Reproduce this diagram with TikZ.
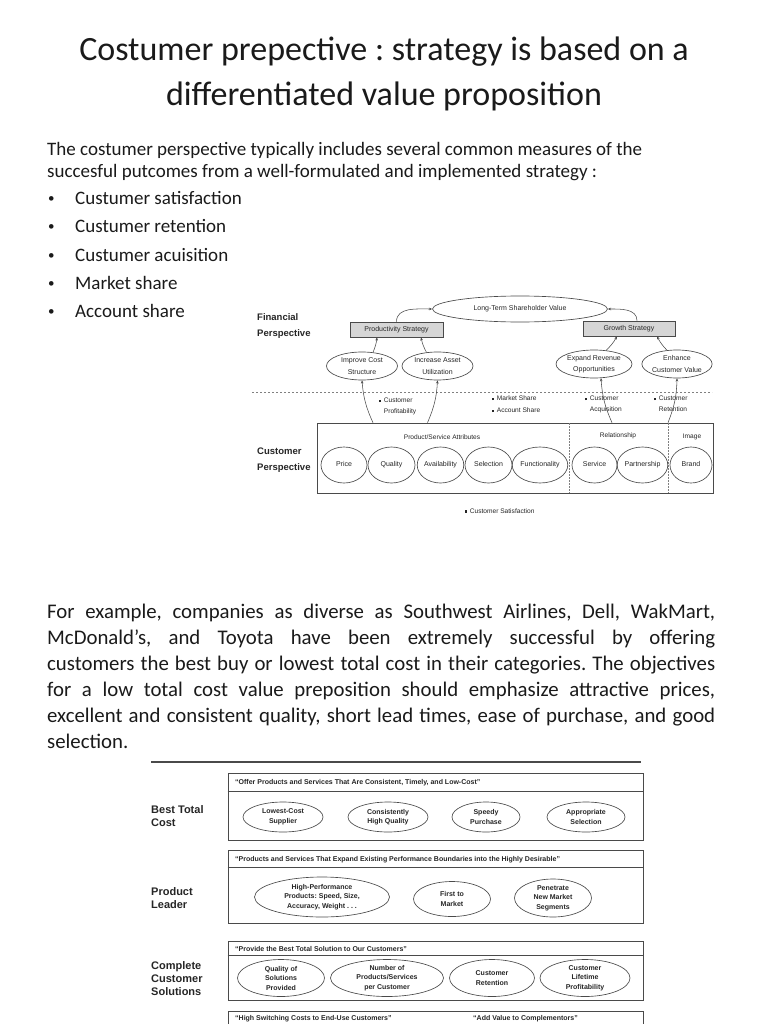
\documentclass[tikz,border=0pt]{standalone}
\usepackage{fontspec}
\setmainfont{Carlito}
\newfontfamily\diagfont{Liberation Sans}
\usetikzlibrary{arrows.meta, positioning, shapes.geometric, calc}
\definecolor{slideInk}{HTML}{1A1A1A}
\definecolor{diagInk}{HTML}{262626}
\definecolor{diagLine}{HTML}{4A4A4A}
\definecolor{stratFill}{HTML}{D6D6D6}
\newcommand{\sqbul}{\raisebox{0.8pt}{\rule{2.2pt}{2.2pt}}}
\newcommand{\bulpair}[2]{\begin{tabular}{@{}l@{\hspace{2.5pt}}l@{}}\sqbul & #1\\ & #2\end{tabular}}
\tikzset{
  arrowK/.style={-{Stealth[length=3.2pt, width=2.6pt]}, diagLine, line width=0.55pt},
  ovalTop/.style={ellipse, draw=diagLine, line width=0.65pt, inner sep=0pt, align=center,
                  text=diagInk, font=\diagfont\fontsize{7}{11.5}\selectfont},
  ovalOne/.style={ovalTop, minimum height=36pt, text height=5.2pt, text depth=1.4pt},
  stratBox/.style={rectangle, draw=diagLine, fill=stratFill, line width=0.65pt, inner sep=0pt,
                   minimum height=15pt, text=diagInk, font=\diagfont\fontsize{7}{8}\selectfont},
  labTop/.style={anchor=north west, inner sep=0pt, text=diagInk,
                 font=\diagfont\fontsize{6.6}{11}\selectfont},
  persp/.style={anchor=west, inner sep=0pt, align=left, text=diagInk,
                font=\diagfont\bfseries\fontsize{9.5}{16}\selectfont},
  valBox/.style={rectangle, draw=diagLine, line width=0.9pt, minimum width=415pt, inner sep=0pt},
  valHead/.style={anchor=west, inner sep=0pt, text=diagInk,
                  font=\diagfont\bfseries\fontsize{7}{8}\selectfont},
  ovalVal/.style={ellipse, draw=diagLine, line width=0.65pt, inner sep=0pt, align=center,
                  text=diagInk, font=\diagfont\bfseries\fontsize{7}{9.5}\selectfont},
  valLab/.style={anchor=west, inner sep=0pt, align=left, text=diagInk,
                 font=\diagfont\bfseries\fontsize{11}{13}\selectfont},
}

\begin{document}
\frenchspacing
\begin{tikzpicture}[x=1pt, y=-1pt, text=slideInk]
  \fill[white] (0,0) rectangle (768,1024);
  \useasboundingbox (0,0) rectangle (768,1024);

  % slide text
  \node[anchor=base, inner sep=0pt, font=\fontsize{34}{40}\selectfont] (title1) at (384,61)
    {Costumer prepective : strategy is based on a};
  \node[anchor=base, inner sep=0pt, font=\fontsize{34}{40}\selectfont] (title2) at (384,106)
    {differentiated value proposition};
  \node[anchor=base west, inner sep=0pt, font=\fontsize{19}{22}\selectfont] (intro1) at (47,156)
    {The costumer perspective typically includes several common measures of the};
  \node[anchor=base west, inner sep=0pt, font=\fontsize{19}{22}\selectfont] (intro2) at (47,178)
    {succesful putcomes from a well-formulated and implemented strategy :};
  \foreach \txt [count=\i] in {Custumer satisfaction, Custumer retention, Custumer acuisition,
                              Market share, Account share} {
    \node[anchor=base west, inner sep=0pt, font=\fontsize{13}{15}\selectfont] (dot\i)
      at (48,{203+28*(\i-1)}) {•};
    \node[anchor=base west, inner sep=0pt, font=\fontsize{19}{22}\selectfont] (bul\i)
      at (75,{205+28*(\i-1)}) {\txt};
  }

  % financial perspective
  \node[persp] (finLab) at (257,326) {Financial\\Perspective};
  \node[ovalTop, minimum width=175pt, minimum height=26pt] (ltv) at (520,309)
    {Long-Term Shareholder Value};
  \node[stratBox, minimum width=93pt] (prod) at (396.5,329.5) {Productivity Strategy};
  \node[stratBox, minimum width=92pt] (grow) at (629,328.5) {Growth Strategy};
  \node[ovalTop, minimum width=71pt, minimum height=28pt] (ics) at (362,366) {Improve Cost\\Structure};
  \node[ovalTop, minimum width=71pt, minimum height=28pt] (iau) at (437.5,366) {Increase Asset\\Utilization};
  \node[ovalTop, minimum width=70pt, minimum height=28pt] (ero) at (594,364) {Expand Revenue\\Opportunities};
  \node[ovalTop, minimum width=70pt, minimum height=28pt] (ecv) at (677,364) {Enhance\\Customer Value};

  \draw[arrowK] (prod.north) to[out=90, in=180] (ltv.west);
  \draw[arrowK] ($(grow.north)+(8,0)$) to[out=90, in=0] (ltv.east);
  \draw[arrowK] ($(ics.north)+(11,0.7)$) to[bend right=8] ($(prod.south)+(-19.5,0)$);
  \draw[arrowK] ($(iau.north)+(-11,0.7)$) to[bend left=8] ($(prod.south)+(24.5,0)$);
  \draw[arrowK] ($(ero.north)+(12,0.8)$) to[bend right=8] ($(grow.south)+(-12,0)$);
  \draw[arrowK] ($(ecv.north)+(-10,0.6)$) to[bend left=8] ($(grow.south)+(28,0)$);

  \coordinate (sepL) at (252,392);
  \coordinate (sepR) at (712,392);
  \draw[diagLine!70, line width=0.6pt, dash pattern=on 2pt off 2pt] (sepL) -- (sepR);

  \node[labTop] (cpLab) at (379,395) {\bulpair{Customer}{Profitability}};
  \node[labTop] (msLab) at (492,393) {\bulpair{Market Share}{}};
  \node[labTop] (asLab) at (492,405) {\bulpair{Account Share}{}};
  \node[labTop] (caLab) at (585,393) {\bulpair{Customer}{Acquisition}};
  \node[labTop] (crLab) at (654,393) {\bulpair{Customer}{Retention}};

  % customer perspective
  \node[persp] (custLab) at (257,460) {Customer\\Perspective};
  \node[rectangle, draw=diagLine, line width=0.65pt, minimum width=396pt, minimum height=70pt,
        inner sep=0pt] (cust) at (515,458) {};
  \coordinate (relSplit) at (569,423);
  \coordinate (imgSplit) at (668,423);
  \draw[diagLine!70, line width=0.5pt, dash pattern=on 1.5pt off 1.5pt]
    (relSplit) -- (relSplit |- cust.south);
  \draw[diagLine!70, line width=0.5pt, dash pattern=on 1.5pt off 1.5pt]
    (imgSplit) -- (imgSplit |- cust.south);
  \node[labTop, anchor=center] (attrHead) at (442,437) {Product/Service Attributes};
  \node[labTop, anchor=center] (relHead) at (618,436) {Relationship};
  \node[labTop, anchor=center] (imgHead) at (692,437) {Image};
  \node[ovalOne, minimum width=46pt] (price) at (344,465) {Price};
  \node[ovalOne, minimum width=47pt] (qual) at (391.5,465) {Quality};
  \node[ovalOne, minimum width=46pt] (avail) at (440.5,465) {Availability};
  \node[ovalOne, minimum width=47pt] (sel) at (488.5,465) {Selection};
  \node[ovalOne, minimum width=50pt] (func) at (540,465) {Functionality};
  \node[ovalOne, minimum width=45pt] (serv) at (594.5,465) {Service};
  \node[ovalOne, minimum width=45pt] (part) at (642.5,465) {Partnership};
  \node[ovalOne, minimum width=42pt] (brand) at (691,465) {Brand};

  \draw[arrowK] ($(cust.north -| ics.south)+(11,0)$) to[bend left=10] (ics.south);
  \draw[arrowK] ($(cust.north -| iau.south)+(-10,0)$) to[bend right=10] (iau.south);
  \draw[arrowK] ($(cust.north -| ero.south)+(18,0)$) to[bend left=10] ($(ero.south)+(7,-0.3)$);
  \draw[arrowK] ($(cust.north -| ecv.south)+(-9,0)$) to[bend right=10] (ecv.south);

  \node[labTop, anchor=west] (satLab) at (465,511) {\sqbul\hspace{2.5pt}Customer Satisfaction};

  % para
  \node[anchor=north west, text width=668pt, align=justify, inner sep=0pt,
        font=\fontsize{20.8}{26}\selectfont] (para) at (47,604)
    {For example, companies as diverse as Southwest Airlines, Dell, WakMart,\linebreak
     McDonald’s, and Toyota have been extremely successful by offering\linebreak
     customers the best buy or lowest total cost in their categories. The objectives\linebreak
     for a low total cost value preposition should emphasize attractive prices,\linebreak
     excellent and consistent quality, short lead times, ease of purchase, and good\linebreak
     selection.};

  % value propositions
  \coordinate (ruleL) at (151,762);
  \coordinate (ruleR) at (641,762);
  \draw[diagLine, line width=1.4pt] (ruleL) -- (ruleR);

  \node[valBox, minimum height=67pt] (btc) at (435.5,806.5) {};
  \draw[diagLine, line width=0.9pt] ([yshift=-19pt]btc.north west) -- ([yshift=-19pt]btc.north east);
  \node[valHead] (btcHead) at (235,782.5)
    {“Offer Products and Services That Are Consistent, Timely, and Low-Cost”};
  \node[valLab] (btcLab) at (151,816.5) {Best Total\\Cost};
  \node[ovalVal, minimum width=80pt, minimum height=30pt] (lcs) at (283,817) {Lowest-Cost\\Supplier};
  \node[ovalVal, minimum width=80pt, minimum height=30pt] (chq) at (388,817) {Consistently\\High Quality};
  \node[ovalVal, minimum width=68pt, minimum height=30pt] (spd) at (486,817) {Speedy\\Purchase};
  \node[ovalVal, minimum width=78pt, minimum height=30pt] (aps) at (586,817) {Appropriate\\Selection};

  \node[valBox, minimum height=73pt] (pl) at (435.5,886.5) {};
  \draw[diagLine, line width=0.9pt] ([yshift=-18pt]pl.north west) -- ([yshift=-18pt]pl.north east);
  \node[valHead] (plHead) at (235,859.5)
    {“Products and Services That Expand Existing Performance Boundaries into the Highly Desirable”};
  \node[valLab] (plLab) at (151,898.5) {Product\\Leader};
  \node[ovalVal, minimum width=135pt, minimum height=40pt] (hpp) at (322,897)
    {High-Performance\\Products: Speed, Size,\\Accuracy, Weight . . .};
  \node[ovalVal, minimum width=77pt, minimum height=35pt] (ftm) at (452,899) {First to\\Market};
  \node[ovalVal, minimum width=77pt, minimum height=38pt] (pnm) at (553,898) {Penetrate\\New Market\\Segments};

  \node[valBox, minimum height=59pt] (ccs) at (435.5,970.5) {};
  \draw[diagLine, line width=0.9pt] ([yshift=-15pt]ccs.north west) -- ([yshift=-15pt]ccs.north east);
  \node[valHead] (ccsHead) at (235,948.5) {“Provide the Best Total Solution to Our Customers”};
  \node[valLab] (ccsLab) at (151,979) {Complete\\Customer\\Solutions};
  \node[ovalVal, minimum width=87pt, minimum height=37pt] (qsp) at (281,978) {Quality of\\Solutions\\Provided};
  \node[ovalVal, minimum width=113pt, minimum height=37pt] (nps) at (387,978)
    {Number of\\Products/Services\\per Customer};
  \node[ovalVal, minimum width=85pt, minimum height=37pt] (crt) at (492,978) {Customer\\Retention};
  \node[ovalVal, minimum width=90pt, minimum height=37pt] (clp) at (585,978)
    {Customer\\Lifetime\\Profitability};

  \node[valBox, minimum height=30pt] (lock) at (435.5,1026) {};
  \node[valHead] (lockHead) at (235,1019) {“High Switching Costs to End-Use Customers”};
  \node[valHead] (compHead) at (473,1019) {“Add Value to Complementors”};
\end{tikzpicture}
\end{document}
